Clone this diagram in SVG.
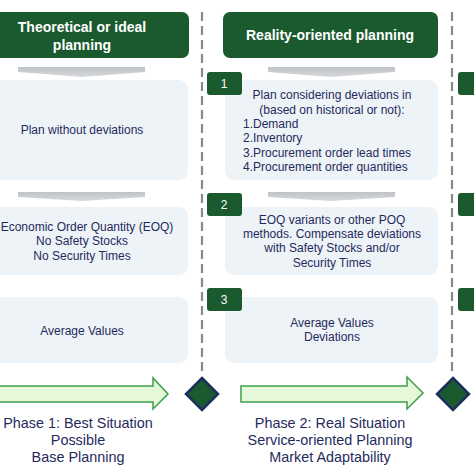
<svg xmlns="http://www.w3.org/2000/svg" width="474" height="474" viewBox="0 0 474 474">
<defs>
<style>
.hdr{fill:#1b5a2e}
.hdrt{fill:#fff;font-family:"Liberation Sans",Arial,sans-serif;font-weight:bold;font-size:14px;text-anchor:middle}
.box{fill:#eef3f7}
.t{fill:#1f2a5c;font-family:"Liberation Sans",Arial,sans-serif;font-size:12px;text-anchor:middle}
.tl{fill:#1f2a5c;font-family:"Liberation Sans",Arial,sans-serif;font-size:12px}
.ph{fill:#1f2a5c;font-family:"Liberation Sans",Arial,sans-serif;font-size:14.4px;text-anchor:middle}
.badge{fill:#1b5a2e}
.bt{fill:#fff;font-family:"Liberation Sans",Arial,sans-serif;font-size:12px;text-anchor:middle}
.chev{fill:url(#cg)}
.dash{stroke:#8a8a8a;stroke-width:2.2;stroke-dasharray:9 5;fill:none}
.arrow{fill:#e5f8da;stroke:#3c9e4a;stroke-width:1.5}
.dia{fill:#1b5a2e;stroke:#1c2f5e;stroke-width:2.5}
</style>
<linearGradient id="cg" x1="0" y1="0" x2="0" y2="1">
<stop offset="0" stop-color="#bfc3c7"/>
<stop offset="1" stop-color="#d6d9dc"/>
</linearGradient>
</defs>
<rect width="474" height="474" fill="#fff"/>

<g id="connectors">
<line class="dash" x1="202" y1="12" x2="202" y2="374"/>
<line class="dash" x1="452" y1="12" x2="452" y2="374"/>
</g>

<g id="col1-header">
<rect class="hdr" x="-10" y="12" width="199" height="46" rx="7"/>
<text class="hdrt" x="82" y="32">Theoretical or ideal</text>
<text class="hdrt" x="82" y="50">planning</text>
</g>
<g id="col1-chevron1"><polygon class="chev" points="18,67 145,67 145,72 82,77 18,72"/></g>
<g id="col1-box1">
<rect class="box" x="-10" y="80" width="198" height="100" rx="9"/>
<text class="t" x="82" y="134">Plan without deviations</text>
</g>
<g id="col1-chevron2"><polygon class="chev" points="18,192 145,192 145,197 82,201 18,197"/></g>
<g id="col1-box2">
<rect class="box" x="-10" y="207" width="198" height="68" rx="9"/>
<text class="t" x="87" y="231">Economic Order Quantity (EOQ)</text>
<text class="t" x="82" y="245">No Safety Stocks</text>
<text class="t" x="82" y="260">No Security Times</text>
</g>
<g id="col1-box3">
<rect class="box" x="-10" y="297" width="198" height="66" rx="9"/>
<text class="t" x="82" y="335">Average Values</text>
</g>
<g id="phase1-arrow">
<polygon class="arrow" points="-5,386 153,386 153,378 168,394 153,409 153,402 -5,402"/>
</g>
<g id="diamond1"><polygon class="dia" points="202,378 218,394 202,410 186,394"/></g>
<g id="phase1-label">
<text class="ph" x="78" y="428">Phase 1: Best Situation</text>
<text class="ph" x="78" y="445">Possible</text>
<text class="ph" x="78" y="462">Base Planning</text>
</g>

<g id="col2-header">
<rect class="hdr" x="223" y="12" width="215" height="46" rx="7"/>
<text class="hdrt" x="330" y="40">Reality-oriented planning</text>
</g>
<g id="col2-chevron1"><polygon class="chev" points="268,67 395,67 395,72 331,77 268,72"/></g>
<g id="col2-box1">
<rect class="box" x="225" y="80" width="213" height="100" rx="9"/>
<text class="t" x="332" y="99">Plan considering deviations in</text>
<text class="t" x="332" y="114">(based on historical or not):</text>
<text class="tl" x="243" y="128">1.Demand</text>
<text class="tl" x="243" y="142">2.Inventory</text>
<text class="tl" x="243" y="157">3.Procurement order lead times</text>
<text class="tl" x="243" y="171">4.Procurement order quantities</text>
</g>
<g id="badge1">
<rect class="badge" x="207" y="72" width="35" height="23" rx="3"/>
<text class="bt" x="224" y="88">1</text>
</g>
<g id="col2-chevron2"><polygon class="chev" points="268,192 395,192 395,197 331,201 268,197"/></g>
<g id="col2-box2">
<rect class="box" x="225" y="207" width="213" height="68" rx="9"/>
<text class="t" x="332" y="224">EOQ variants or other POQ</text>
<text class="t" x="332" y="238">methods. Compensate deviations</text>
<text class="t" x="332" y="252">with Safety Stocks and/or</text>
<text class="t" x="332" y="267">Security Times</text>
</g>
<g id="badge2">
<rect class="badge" x="207" y="193" width="35" height="23" rx="3"/>
<text class="bt" x="224" y="209">2</text>
</g>
<g id="col2-box3">
<rect class="box" x="225" y="297" width="213" height="66" rx="9"/>
<text class="t" x="332" y="327">Average Values</text>
<text class="t" x="332" y="341">Deviations</text>
</g>
<g id="badge3">
<rect class="badge" x="207" y="288" width="35" height="23" rx="3"/>
<text class="bt" x="224" y="304">3</text>
</g>
<g id="phase2-arrow">
<polygon class="arrow" points="241,386 407,386 407,377 423,393 407,409 407,402 241,402"/>
</g>
<g id="diamond2"><polygon class="dia" points="453,378 469,394 453,410 437,394"/></g>
<g id="phase2-label">
<text class="ph" x="330" y="428">Phase 2: Real Situation</text>
<text class="ph" x="330" y="445">Service-oriented Planning</text>
<text class="ph" x="330" y="462">Market Adaptability</text>
</g>

<g id="col3-badge1"><rect class="badge" x="458" y="72" width="30" height="23" rx="3"/></g>
<g id="col3-badge2"><rect class="badge" x="458" y="193" width="30" height="23" rx="3"/></g>
<g id="col3-badge3"><rect class="badge" x="458" y="288" width="30" height="23" rx="3"/></g>
</svg>
